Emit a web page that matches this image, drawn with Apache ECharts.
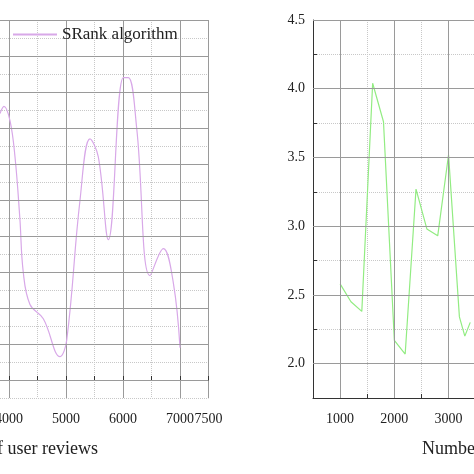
<!DOCTYPE html>
<html><head><meta charset="utf-8">
<script src="https://cdn.jsdelivr.net/npm/echarts@6/dist/echarts.min.js"></script>
<style>html,body{margin:0;padding:0;background:#fff;overflow:hidden}#c{position:absolute;left:-100px;top:0;width:674px;height:474px}</style>
</head><body><div id="c"></div>
<script>
const leftX = [3842,3912,4018,4105,4190,4250,4368,4602,4895,5012,5246,5421,5567,5743,6006,6094,6240,6474,6708,6883,7000];
const leftY = [7.4,7.6,7.2,6.2,4.5,3.0,2.1,1.7,0.65,1.1,5.0,6.7,6.2,3.9,8.4,8.4,7.0,2.9,3.65,2.7,0.9];
const rightX = [1000,1200,1400,1600,1800,2000,2200,2400,2600,2800,3000,3200,3300,3400];
const rightY = [2.58,2.45,2.38,4.04,3.76,2.17,2.07,3.27,2.98,2.93,3.52,2.34,2.2,2.3];
const leftMajorY = [0,1,2,3,4,5,6,7,8,9,10];
const rightMajorX = [1000,2000,3000,4000];
const rightMajorY = [2.0,2.5,3.0,3.5,4.0,4.5];
const legendName = 'SRank algorithm';
const xTitle = 'Number of user reviews';
const serif = "'Liberation Serif', 'DejaVu Serif', serif";
const pair = (xs, ys) => xs.map((x, i) => [x, ys[i]]);
const grid = '#9a9a9a', minor = '#c8c8c8';
const tickS = {show:true,inside:true,length:4,lineStyle:{color:'#333'}};
const lbl = {color:'#222',fontFamily:serif,fontSize:14};
const chart = echarts.init(document.getElementById('c'));
chart.setOption({
  animation:false,
  grid:[{left:52,width:256.5,top:20,bottom:76},{left:413,width:256.5,top:20,bottom:76}],
  xAxis:[
    {gridIndex:0,type:'value',min:3000,max:7500,interval:1000,
      axisLine:{show:true,lineStyle:{color:'#333'}},axisTick:tickS,
      minorTick:{show:true,splitNumber:2,length:4,lineStyle:{color:'#333'}},
      axisLabel:Object.assign({margin:14,formatter:v=>String(v)},lbl),
      splitLine:{show:true,lineStyle:{color:grid}},
      minorSplitLine:{show:true,lineStyle:{color:minor,type:'dotted'}}},
    {gridIndex:1,type:'value',min:500,max:5000,interval:500,
      axisLine:{show:true,lineStyle:{color:'#333'}},axisTick:tickS,
      axisLabel:Object.assign({margin:14,formatter:v=>v%1000===0?String(v):''},lbl),
      splitLine:{show:true,lineStyle:{color:minor,type:'dotted'}}}
  ],
  yAxis:[
    {gridIndex:0,type:'value',min:-0.5,max:10,interval:0.5,
      axisLine:{show:false},axisTick:{show:false},axisLabel:{show:false},
      splitLine:{show:true,lineStyle:{color:minor,type:'dotted'}}},
    {gridIndex:1,type:'value',min:1.75,max:4.5,interval:0.25,
      axisLine:{show:true,lineStyle:{color:'#333'}},axisTick:tickS,
      axisLabel:Object.assign({margin:8,formatter:v=>(Math.abs(v*2-Math.round(v*2))<1e-6)?v.toFixed(1):''},lbl),
      splitLine:{show:true,lineStyle:{color:minor,type:'dotted'}}}
  ],
  legend:{show:true,left:108,top:21,itemWidth:44,itemHeight:2,icon:'rect',
    textStyle:{fontFamily:serif,fontSize:17,color:'#222'},data:[legendName]},
  series:[
    {name:'grid-l',type:'line',xAxisIndex:0,yAxisIndex:0,data:[],silent:true,
      markLine:{silent:true,symbol:'none',label:{show:false},lineStyle:{color:grid,type:'solid',width:1},
        data:leftMajorY.map(v=>({yAxis:v}))}},
    {name:'grid-r',type:'line',xAxisIndex:1,yAxisIndex:1,data:[],silent:true,
      markLine:{silent:true,symbol:'none',label:{show:false},lineStyle:{color:grid,type:'solid',width:1},
        data:rightMajorX.map(v=>({xAxis:v})).concat(rightMajorY.map(v=>({yAxis:v})))}},
    {name:legendName,type:'line',xAxisIndex:0,yAxisIndex:0,smooth:0.4,showSymbol:false,
      lineStyle:{color:'#d8a8e8',width:1.2},itemStyle:{color:'#d8a8e8'},data:pair(leftX,leftY)},
    {name:'right',type:'line',xAxisIndex:1,yAxisIndex:1,showSymbol:false,
      lineStyle:{color:'#92ec82',width:1.2},data:pair(rightX,rightY)}
  ],
  graphic:[
    {type:'text',right:476,top:440,style:{text:xTitle,font:'18px '+serif,fill:'#222',textAlign:'right'}},
    {type:'text',left:522,top:440,style:{text:xTitle,font:'18px '+serif,fill:'#222'}}
  ]
});
</script></body></html>
